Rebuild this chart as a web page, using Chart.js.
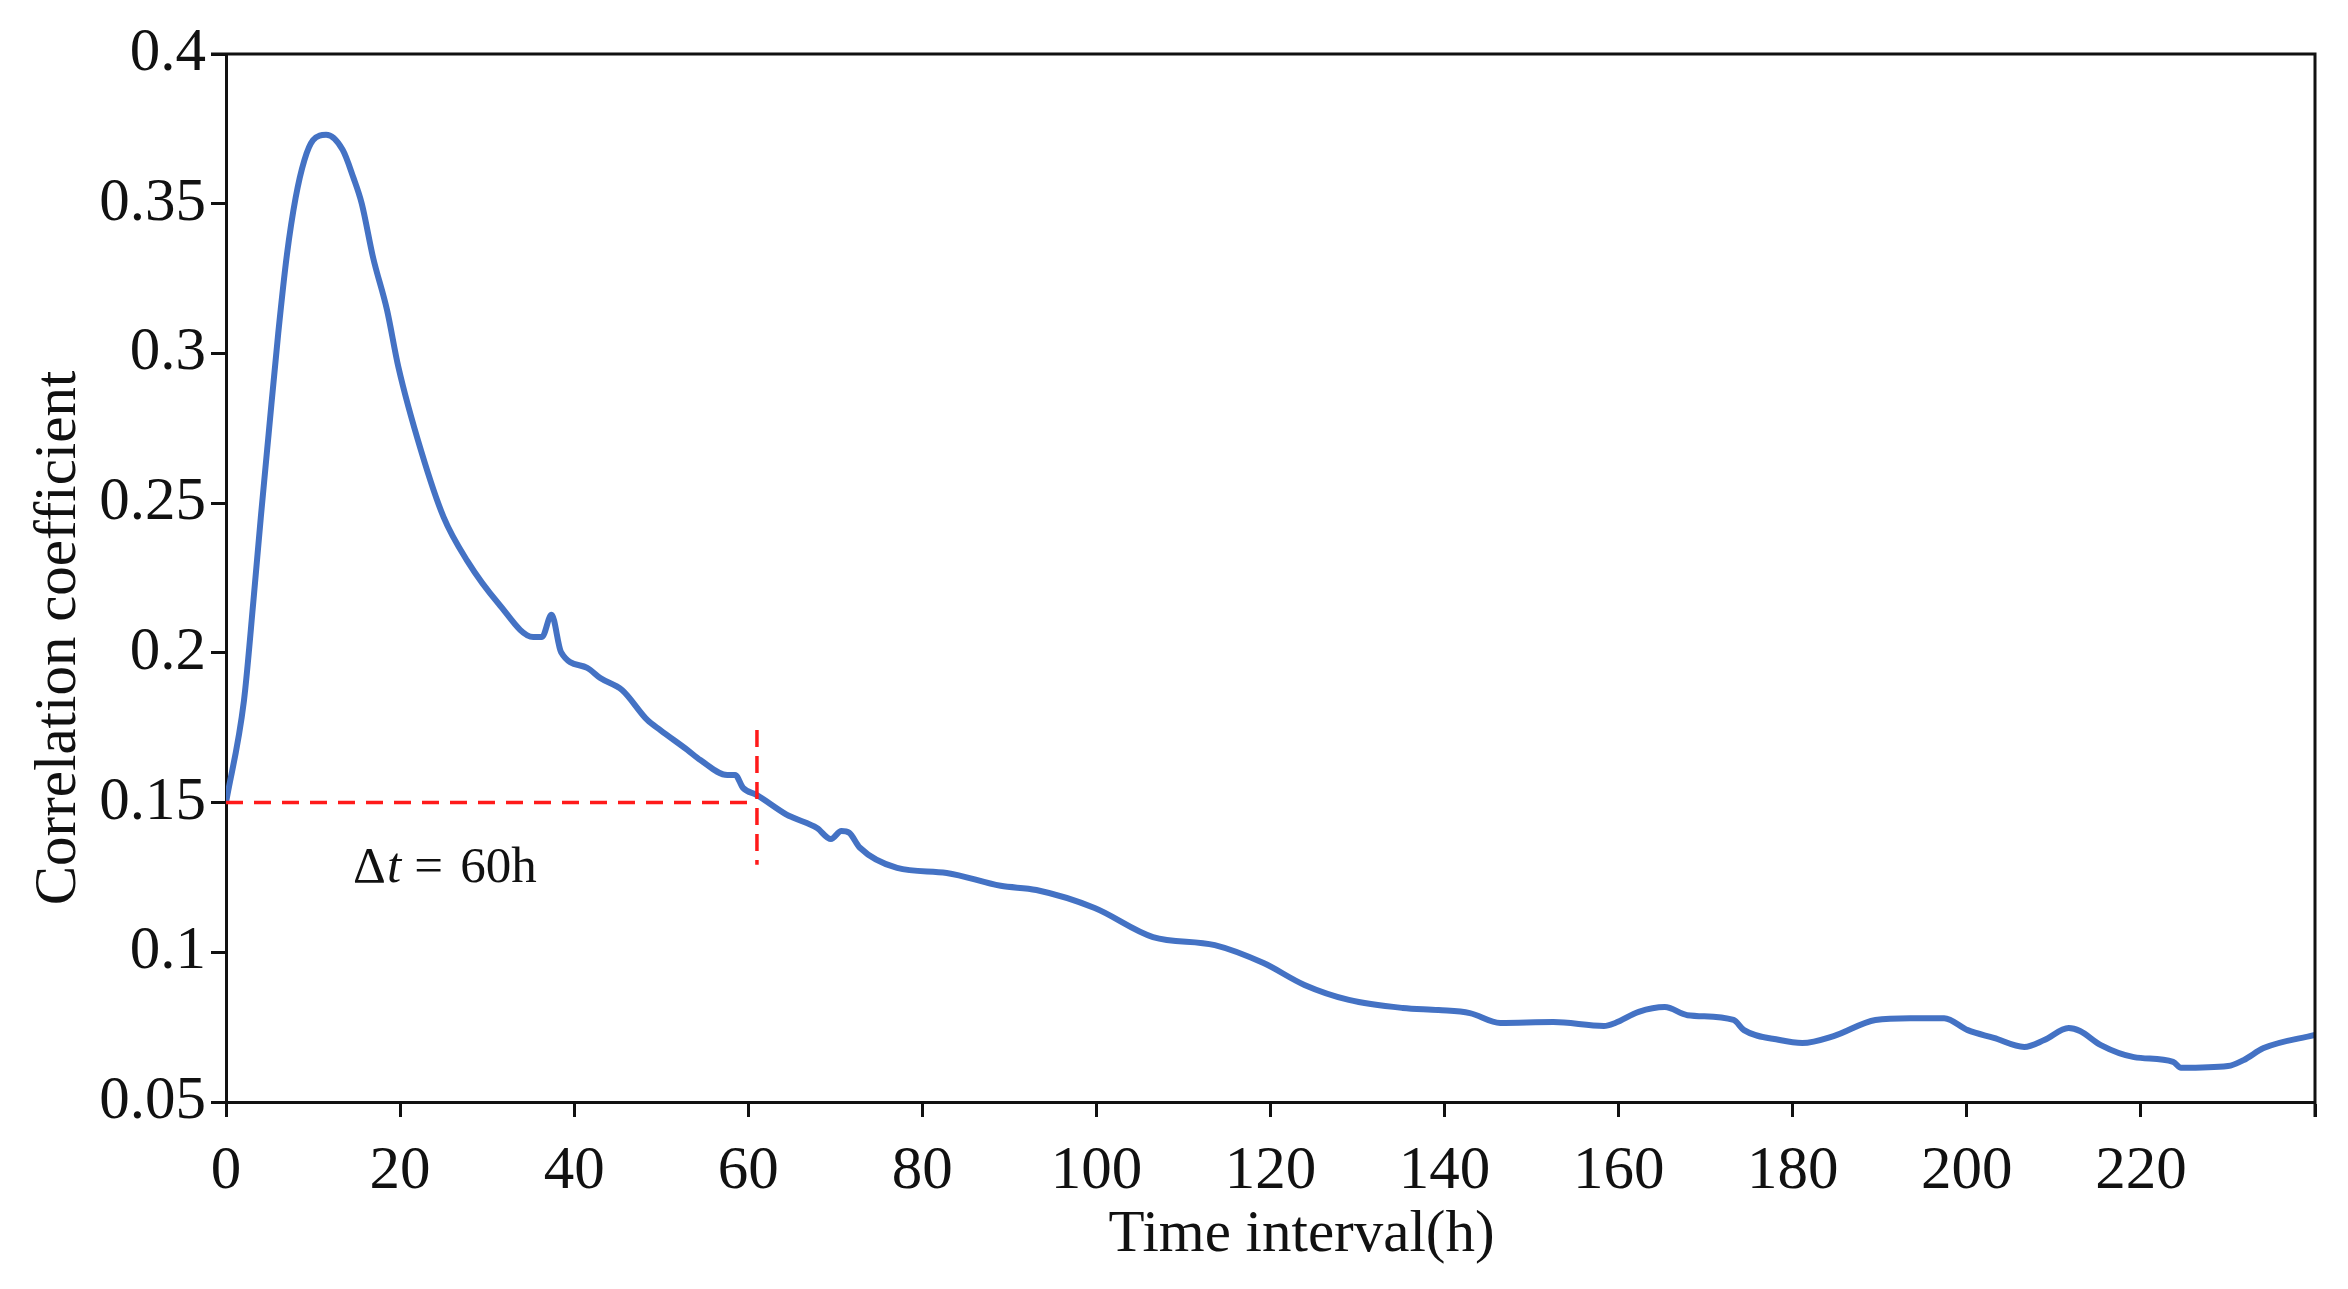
<!DOCTYPE html>
<html>
<head>
<meta charset="utf-8">
<script src="https://cdn.jsdelivr.net/npm/chart.js@4.4.1/dist/chart.umd.min.js"></script>
<style>
  html, body { margin: 0; padding: 0; background: #fff; }
  #wrap { width: 2348px; height: 1289px; position: relative; }
</style>
</head>
<body>
<div id="wrap"><canvas id="c"></canvas></div>
<script>
// ---- data ----
const timeH = [0, 2.06, 3.15, 4.0, 4.9, 6.0, 7.0, 8.0, 9.0, 10, 11.5, 13.4, 14.6, 15.6, 16.9, 18.5, 19.8, 22.4, 25.0, 27.7, 31.3, 35.3, 36.3, 37.4, 38.5, 41.5, 43, 45.5, 48.4, 49.9, 53, 54.5, 57.6, 58.5, 59.4, 61, 64.4, 65.2, 67.9, 69.5, 70.7, 71.6, 72.8, 77.1, 82.8, 89, 93.1, 99.8, 106.5, 113.6, 119.2, 123.9, 129, 135.2, 139.3, 142.9, 146.4, 152.5, 158.3, 159.6, 162.3, 165.3, 167.9, 173.2, 174.4, 178.5, 181.1, 184.7, 189.5, 193.5, 197.4, 200.1, 203.1, 206.6, 208.9, 211.7, 213, 215.4, 219.2, 223.7, 224.6, 230, 231.8, 234.1, 240];
const corr = [0.150, 0.184, 0.2174, 0.2453, 0.2732, 0.3067, 0.333, 0.352, 0.3645, 0.3712, 0.373, 0.368, 0.359, 0.350, 0.332, 0.3145, 0.2955, 0.2676, 0.2453, 0.2308, 0.2165, 0.2053, 0.2053, 0.2127, 0.2002, 0.195, 0.1916, 0.1876, 0.1776, 0.1742, 0.1676, 0.1642, 0.1592, 0.1592, 0.1549, 0.1525, 0.146, 0.1449, 0.1415, 0.1378, 0.1405, 0.1399, 0.135, 0.1282, 0.1265, 0.1222, 0.1208, 0.1148, 0.1051, 0.1024, 0.0964, 0.0891, 0.0841, 0.0814, 0.0807, 0.0797, 0.0764, 0.0767, 0.0754, 0.0764, 0.0801, 0.0817, 0.079, 0.0774, 0.074, 0.0707, 0.0697, 0.072, 0.0774, 0.078, 0.078, 0.074, 0.0714, 0.0684, 0.0707, 0.0747, 0.0737, 0.069, 0.065, 0.0634, 0.0614, 0.062, 0.064, 0.068, 0.0724];

const xTickValues = [0, 20, 40, 60, 80, 100, 120, 140, 160, 180, 200, 220, 240];
const xTickLabels = ['0', '20', '40', '60', '80', '100', '120', '140', '160', '180', '200', '220', ''];
const yTickValues = [0.05, 0.1, 0.15, 0.2, 0.25, 0.3, 0.35, 0.4];
const yTickLabels = ['0.05', '0.1', '0.15', '0.2', '0.25', '0.3', '0.35', '0.4'];

// reference marker (dashed red lines)
const refX = 61;
const refY = 0.15;
const refVSpan = [0.1742, 0.1292];
const refLabelParts = ['\u0394', 't', '=', '60h'];
const refLabelAt = [14.6, 0.1235];

const xTitle = 'Time interval(h)';
const yTitle = 'Correlation coefficient';

// ---- chart ----
const FONT = '"Liberation Serif", "Times New Roman", serif';
const TXT = '#111';

const mainData = timeH.map((t, i) => ({ x: t, y: corr[i] }));
const hRef = [{ x: 0, y: refY }, { x: refX, y: refY }];
const vRef = [{ x: refX, y: refVSpan[0] }, { x: refX, y: refVSpan[1] }];

const overlay = {
  id: 'overlay',
  afterDraw(chart) {
    const { ctx, chartArea: a, scales } = chart;
    ctx.save();
    // frame top & right
    ctx.strokeStyle = '#111';
    ctx.lineWidth = 3;
    ctx.beginPath();
    ctx.moveTo(a.left - 15, a.top);
    ctx.lineTo(a.right, a.top);
    ctx.lineTo(a.right, a.bottom + 15);
    ctx.stroke();

    // axis titles
    ctx.fillStyle = TXT;
    ctx.font = '59px ' + FONT;
    ctx.textAlign = 'center';
    ctx.textBaseline = 'alphabetic';
    ctx.fillText(xTitle, (a.left + a.right) / 2 + 31, 1251);

    ctx.save();
    ctx.translate(75, 638);
    ctx.rotate(-Math.PI / 2);
    ctx.fillText(yTitle, 0, 0);
    ctx.restore();

    // annotation  Δt = 60h
    const fs = 51;
    const px = scales.x.getPixelForValue(refLabelAt[0]);
    const py = scales.y.getPixelForValue(refLabelAt[1]);
    ctx.textAlign = 'left';
    ctx.font = fs + 'px ' + FONT;
    ctx.fillText(refLabelParts[0], px, py);
    const dw = ctx.measureText(refLabelParts[0]).width;
    ctx.font = 'italic ' + fs + 'px ' + FONT;
    ctx.fillText(refLabelParts[1], px + dw + 1, py);
    ctx.font = fs + 'px ' + FONT;
    ctx.fillText(refLabelParts[2], px + 1.2 * fs, py);
    ctx.fillText(refLabelParts[3], px + 2.1 * fs, py);
    ctx.restore();
  }
};

new Chart(document.getElementById('c'), {
  type: 'line',
  data: {
    datasets: [
      {
        data: mainData,
        borderColor: '#4472C4',
        borderWidth: 6,
        pointRadius: 0,
        cubicInterpolationMode: 'monotone',
        fill: false,
        order: 1
      },
      {
        data: hRef,
        borderColor: '#FF1A1A',
        borderWidth: 3.5,
        borderDash: [17, 11],
        pointRadius: 0,
        fill: false,
        order: 0
      },
      {
        data: vRef,
        borderColor: '#FF1A1A',
        borderWidth: 3.5,
        borderDash: [17, 9],
        pointRadius: 0,
        fill: false,
        order: 0
      }
    ]
  },
  options: {
    responsive: true,
    maintainAspectRatio: false,
    animation: false,
    devicePixelRatio: 1,
    layout: { padding: { top: 54, right: 33, left: 0, bottom: 0 } },
    plugins: { legend: { display: false }, tooltip: { enabled: false } },
    scales: {
      x: {
        type: 'linear',
        min: 0,
        max: 240,
        afterBuildTicks: s => { s.ticks = xTickValues.map(v => ({ value: v })); },
        afterFit: s => { s.height = 187; },
        ticks: {
          autoSkip: false,
          maxRotation: 0,
          padding: 18,
          color: TXT,
          font: { family: FONT, size: 61 },
          callback: (v, i) => xTickLabels[i]
        },
        grid: { display: true, drawOnChartArea: false, drawTicks: true, tickLength: 15, tickWidth: 3, tickColor: '#111' },
        border: { display: true, color: '#111', width: 3 }
      },
      y: {
        type: 'linear',
        min: 0.05,
        max: 0.4,
        afterBuildTicks: s => { s.ticks = yTickValues.map(v => ({ value: v })); },
        afterFit: s => { s.width = 226; },
        ticks: {
          autoSkip: false,
          padding: 5,
          color: TXT,
          font: { family: FONT, size: 61 },
          callback: (v, i) => yTickLabels[i]
        },
        grid: { display: true, drawOnChartArea: false, drawTicks: true, tickLength: 15, tickWidth: 3, tickColor: '#111' },
        border: { display: true, color: '#111', width: 3 }
      }
    }
  },
  plugins: [overlay]
});
</script>
</body>
</html>
